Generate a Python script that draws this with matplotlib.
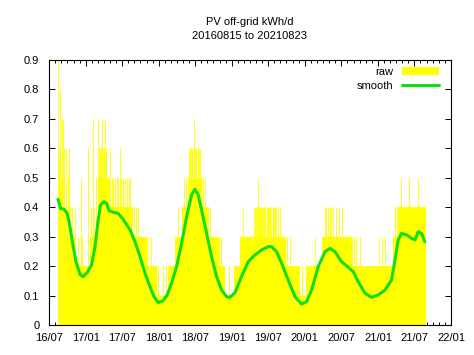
import numpy as np
import pandas as pd
import matplotlib
matplotlib.use("Agg")
import matplotlib.pyplot as plt
import matplotlib.dates as mdates

plt.rcParams['font.family'] = ['Liberation Sans', 'DejaVu Sans']

first_day = "2016-08-15"
last_day = "2021-08-23"

# raw kWh/d: level that holds from each start date on...
seg_start = ["2016-08-15", "2016-09-19", "2016-11-08", "2017-01-22", "2017-03-03",
             "2017-04-22", "2017-08-20", "2017-10-31", "2017-12-21", "2018-02-18",
             "2018-03-23", "2018-04-25", "2018-05-29", "2018-08-03", "2018-09-05",
             "2018-10-25", "2018-11-23", "2019-01-10", "2019-02-10", "2019-09-24",
             "2019-11-29", "2020-01-10", "2020-03-25", "2020-08-20", "2021-03-15",
             "2021-04-08"]
seg_level = [0.4, 0.3, 0.2, 0.3, 0.5,
             0.4, 0.3, 0.2, 0.1, 0.2,
             0.3, 0.4, 0.5, 0.4, 0.3,
             0.2, 0.1, 0.2, 0.3, 0.2,
             0.1, 0.2, 0.3, 0.2, 0.3,
             0.4]

# ...and the single days that stand out from it
spike_dates = ["2016-08-16", "2016-08-19", "2016-08-22", "2016-08-27", "2016-08-30",
               "2016-09-02", "2016-09-05", "2016-09-09", "2016-09-12", "2016-09-15",
               "2016-09-20", "2016-09-24", "2016-09-28", "2016-10-03", "2016-10-06",
               "2016-10-10", "2016-10-15", "2016-10-22", "2016-11-07", "2016-11-25",
               "2016-12-06", "2016-12-15", "2017-01-09", "2017-01-14", "2017-01-28",
               "2017-02-04", "2017-02-12", "2017-02-20", "2017-03-03", "2017-03-08",
               "2017-03-13", "2017-03-18", "2017-03-23", "2017-03-28", "2017-04-02",
               "2017-04-07", "2017-04-12", "2017-04-27", "2017-05-02", "2017-05-10",
               "2017-05-18", "2017-05-25", "2017-06-05", "2017-06-12", "2017-06-21",
               "2017-06-28", "2017-07-05", "2017-07-15", "2017-07-25", "2017-08-05",
               "2017-08-10", "2017-08-28", "2017-09-10", "2017-09-20", "2017-11-05",
               "2017-11-25", "2017-12-28", "2018-01-20", "2018-02-05", "2018-04-05",
               "2018-05-05", "2018-05-15", "2018-05-31", "2018-06-05", "2018-06-10",
               "2018-06-14", "2018-06-18", "2018-06-24", "2018-06-26", "2018-06-28",
               "2018-07-03", "2018-07-08", "2018-07-14", "2018-07-20", "2018-07-26",
               "2018-08-10", "2018-08-20", "2018-09-12", "2018-10-30", "2018-11-10",
               "2018-12-20", "2019-02-25", "2019-04-20", "2019-04-25", "2019-05-01",
               "2019-05-06", "2019-05-10", "2019-05-15", "2019-05-20", "2019-05-26",
               "2019-06-01", "2019-06-06", "2019-06-12", "2019-06-18", "2019-06-24",
               "2019-06-30", "2019-07-05", "2019-07-10", "2019-07-18", "2019-07-24",
               "2019-07-30", "2019-08-05", "2019-08-12", "2019-08-20", "2019-08-28",
               "2019-10-05", "2019-10-20", "2019-12-05", "2019-12-20", "2020-01-05",
               "2020-02-20", "2020-04-10", "2020-04-18", "2020-04-25", "2020-05-05",
               "2020-05-12", "2020-05-20", "2020-06-05", "2020-06-20", "2020-07-03",
               "2020-08-25", "2020-09-05", "2020-09-15", "2020-10-01", "2020-11-10",
               "2020-11-25", "2020-12-10", "2021-01-05", "2021-01-20", "2021-02-05",
               "2021-03-25", "2021-04-26", "2021-05-05", "2021-06-07", "2021-06-15",
               "2021-07-10", "2021-07-22", "2021-08-01"]
spike_vals = [0.9, 0.5, 0.6, 0.8, 0.5,
              0.7, 0.5, 0.7, 0.5, 0.6,
              0.4, 0.6, 0.4, 0.5, 0.4,
              0.6, 0.4, 0.4, 0.4, 0.3,
              0.5, 0.3, 0.1, 0.6, 0.4,
              0.7, 0.4, 0.5, 0.7, 0.6,
              0.6, 0.6, 0.7, 0.6, 0.6,
              0.7, 0.6, 0.5, 0.6, 0.5,
              0.5, 0.5, 0.5, 0.5, 0.6,
              0.5, 0.5, 0.5, 0.5, 0.5,
              0.5, 0.4, 0.4, 0.4, 0.3,
              0.3, 0.2, 0.2, 0.2, 0.4,
              0.5, 0.5, 0.6, 0.6, 0.6,
              0.6, 0.6, 0.6, 0.7, 0.6,
              0.6, 0.6, 0.6, 0.6, 0.6,
              0.5, 0.5, 0.4, 0.3, 0.3,
              0.2, 0.4, 0.4, 0.4, 0.4,
              0.4, 0.5, 0.4, 0.4, 0.4,
              0.4, 0.4, 0.4, 0.4, 0.4,
              0.4, 0.4, 0.4, 0.4, 0.4,
              0.4, 0.4, 0.4, 0.4, 0.4,
              0.3, 0.3, 0.2, 0.2, 0.2,
              0.3, 0.4, 0.4, 0.4, 0.4,
              0.4, 0.4, 0.4, 0.4, 0.4,
              0.3, 0.3, 0.3, 0.3, 0.1,
              0.1, 0.1, 0.3, 0.3, 0.3,
              0.4, 0.5, 0.3, 0.5, 0.3,
              0.3, 0.5, 0.3]

smooth_dates = ["2016-08-15", "2016-08-28", "2016-09-14", "2016-09-30", "2016-10-14",
                "2016-10-27", "2016-11-13", "2016-12-03", "2016-12-19", "2017-01-08",
                "2017-01-30", "2017-02-16", "2017-03-04", "2017-03-16", "2017-04-02",
                "2017-04-15", "2017-04-28", "2017-05-18", "2017-06-12", "2017-07-07",
                "2017-08-10", "2017-09-04", "2017-09-29", "2017-10-24", "2017-11-18",
                "2017-12-08", "2017-12-29", "2018-01-23", "2018-02-12", "2018-03-06",
                "2018-03-31", "2018-04-25", "2018-05-20", "2018-06-14", "2018-07-01",
                "2018-07-17", "2018-08-03", "2018-08-28", "2018-09-22", "2018-10-17",
                "2018-11-11", "2018-12-06", "2018-12-23", "2019-01-17", "2019-02-19",
                "2019-03-24", "2019-04-27", "2019-05-30", "2019-07-02", "2019-07-19",
                "2019-08-13", "2019-09-07", "2019-10-10", "2019-11-13", "2019-12-16",
                "2020-01-10", "2020-02-04", "2020-03-08", "2020-04-11", "2020-05-06",
                "2020-05-31", "2020-07-03", "2020-08-05", "2020-08-30", "2020-09-24",
                "2020-10-28", "2020-11-30", "2021-01-02", "2021-02-05", "2021-03-10",
                "2021-03-27", "2021-04-12", "2021-04-29", "2021-05-24", "2021-06-18",
                "2021-07-05", "2021-07-21", "2021-08-07", "2021-08-23"]
smooth_vals = [0.427, 0.396, 0.393, 0.379, 0.334,
               0.277, 0.215, 0.172, 0.164, 0.178,
               0.204, 0.266, 0.357, 0.408, 0.419,
               0.413, 0.388, 0.383, 0.379, 0.359,
               0.323, 0.283, 0.232, 0.176, 0.130,
               0.096, 0.076, 0.083, 0.102, 0.142,
               0.198, 0.277, 0.368, 0.442, 0.461,
               0.442, 0.391, 0.311, 0.232, 0.164,
               0.119, 0.096, 0.094, 0.110, 0.165,
               0.215, 0.238, 0.255, 0.266, 0.266,
               0.249, 0.210, 0.153, 0.096, 0.071,
               0.079, 0.119, 0.198, 0.249, 0.260,
               0.249, 0.215, 0.196, 0.181, 0.147,
               0.108, 0.094, 0.102, 0.119, 0.153,
               0.221, 0.289, 0.311, 0.306, 0.294,
               0.289, 0.317, 0.311, 0.283]

x_tick_dates = ["2016-07-01", "2017-01-01", "2017-07-01", "2018-01-01", "2018-07-01",
                "2019-01-01", "2019-07-01", "2020-01-01", "2020-07-01", "2021-01-01",
                "2021-07-01", "2022-01-01"]
x_tick_labels = ["16/07", "17/01", "17/07", "18/01", "18/07", "19/01", "19/07",
                 "20/01", "20/07", "21/01", "21/07", "22/01"]
y_ticks = [0, 0.1, 0.2, 0.3, 0.4, 0.5, 0.6, 0.7, 0.8, 0.9]
y_tick_labels = ["0", "0.1", "0.2", "0.3", "0.4", "0.5", "0.6", "0.7", "0.8", "0.9"]

# daily series from the levels and the odd days
days = pd.date_range(first_day, last_day, freq="D")
idx = np.searchsorted(pd.to_datetime(seg_start).values, days.values, side="right") - 1
raw = pd.Series(np.array(seg_level)[idx], index=days)
raw.loc[pd.to_datetime(spike_dates)] = spike_vals

fig = plt.figure(figsize=(4.74, 3.55), dpi=100)
ax = fig.add_axes([49 / 474, 30 / 355, 402 / 474, 265 / 355])

ax.fill_between(days, raw.values, step="post", color="#ffff00", lw=0, label="raw")
ax.vlines(days, 0, raw.values, color="#ffff00", lw=0.6)
ax.plot(pd.to_datetime(smooth_dates), smooth_vals, color="#11dd11", lw=2.2,
        solid_joinstyle="round", solid_capstyle="round", label="smooth")

ax.set_xlim(pd.Timestamp(x_tick_dates[0]), pd.Timestamp(x_tick_dates[-1]))
ax.set_ylim(0, 0.9)
ax.set_xticks(pd.to_datetime(x_tick_dates))
ax.set_xticklabels(x_tick_labels)
ax.xaxis.set_minor_locator(mdates.MonthLocator())
ax.set_yticks(y_ticks)
ax.set_yticklabels(y_tick_labels)

ax.tick_params(which="both", direction="in", top=True, right=True, width=0.7,
               colors="black", labelsize=8)
ax.tick_params(which="major", length=4)
ax.tick_params(which="minor", length=2)
ax.tick_params(axis="x", pad=6)
ax.tick_params(axis="y", pad=7)
for s in ax.spines.values():
    s.set_linewidth(0.8)
    s.set_zorder(5)

ax.legend(loc="upper right", bbox_to_anchor=(1 - 12 / 402, 1 - 7 / 265), frameon=False,
          markerfirst=False, fontsize=8, handlelength=3.3, handletextpad=0.8,
          labelspacing=0.35, borderaxespad=0, borderpad=0)

fig.text(250 / 474, 1 - 29 / 355, "PV off-grid kWh/d\n20160815 to 20210823",
         ha="center", va="center", fontsize=8, linespacing=1.4)

fig.savefig("out.png", dpi=100)
